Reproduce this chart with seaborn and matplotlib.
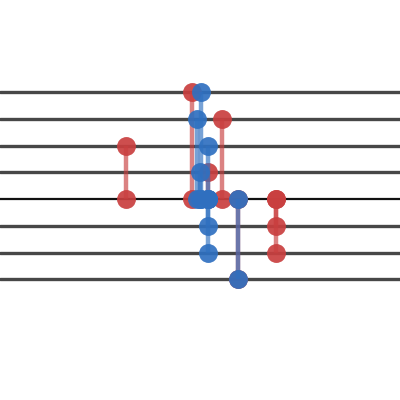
import matplotlib
matplotlib.use("Agg")
import matplotlib.pyplot as plt
import pandas as pd
import seaborn as sns

# horizontal reference levels (0 is the baseline)
levels = [-3, -2, -1, 1, 2, 3, 4]

# segment positions and end values
red_x = [31.5, 48.1, 52.0, 55.4, 59.4, 68.9, 68.9]
red_v = [2, 4, 1, 3, -3, -1, -2]
blue_x = [49.3, 50.2, 50.0, 51.9, 52.0, 52.0, 59.4]
blue_v = [3, 4, 1, 2, -1, -2, -3]

RED = "#c93f3f"
BLUE = "#2f70c0"

sns.set_theme(style="white")

fig = plt.figure(figsize=(4, 4), dpi=100)
ax = fig.add_axes([0, 0, 1, 1])

for lv in levels:
    ax.axhline(lv, color="#474747", lw=2.4, zorder=0)
ax.axhline(0, color="#111111", lw=1.6, zorder=0)


def draw(xs, vs, color, z):
    ax.vlines(xs, 0, vs, color=color, lw=3.2, alpha=0.65, zorder=z)
    pts = pd.DataFrame({"x": list(xs) * 2, "y": [0] * len(xs) + list(vs)})
    sns.scatterplot(data=pts, x="x", y="y", color=color, s=185,
                    linewidth=0, alpha=0.92, ax=ax, zorder=z + 0.5)


draw(red_x, red_v, RED, 2)
draw(blue_x, blue_v, BLUE, 3)

ax.set_xlim(0, 100)
ax.set_ylim(-7.52, 7.45)
ax.set_axis_off()

fig.savefig("out.png", dpi=100)
